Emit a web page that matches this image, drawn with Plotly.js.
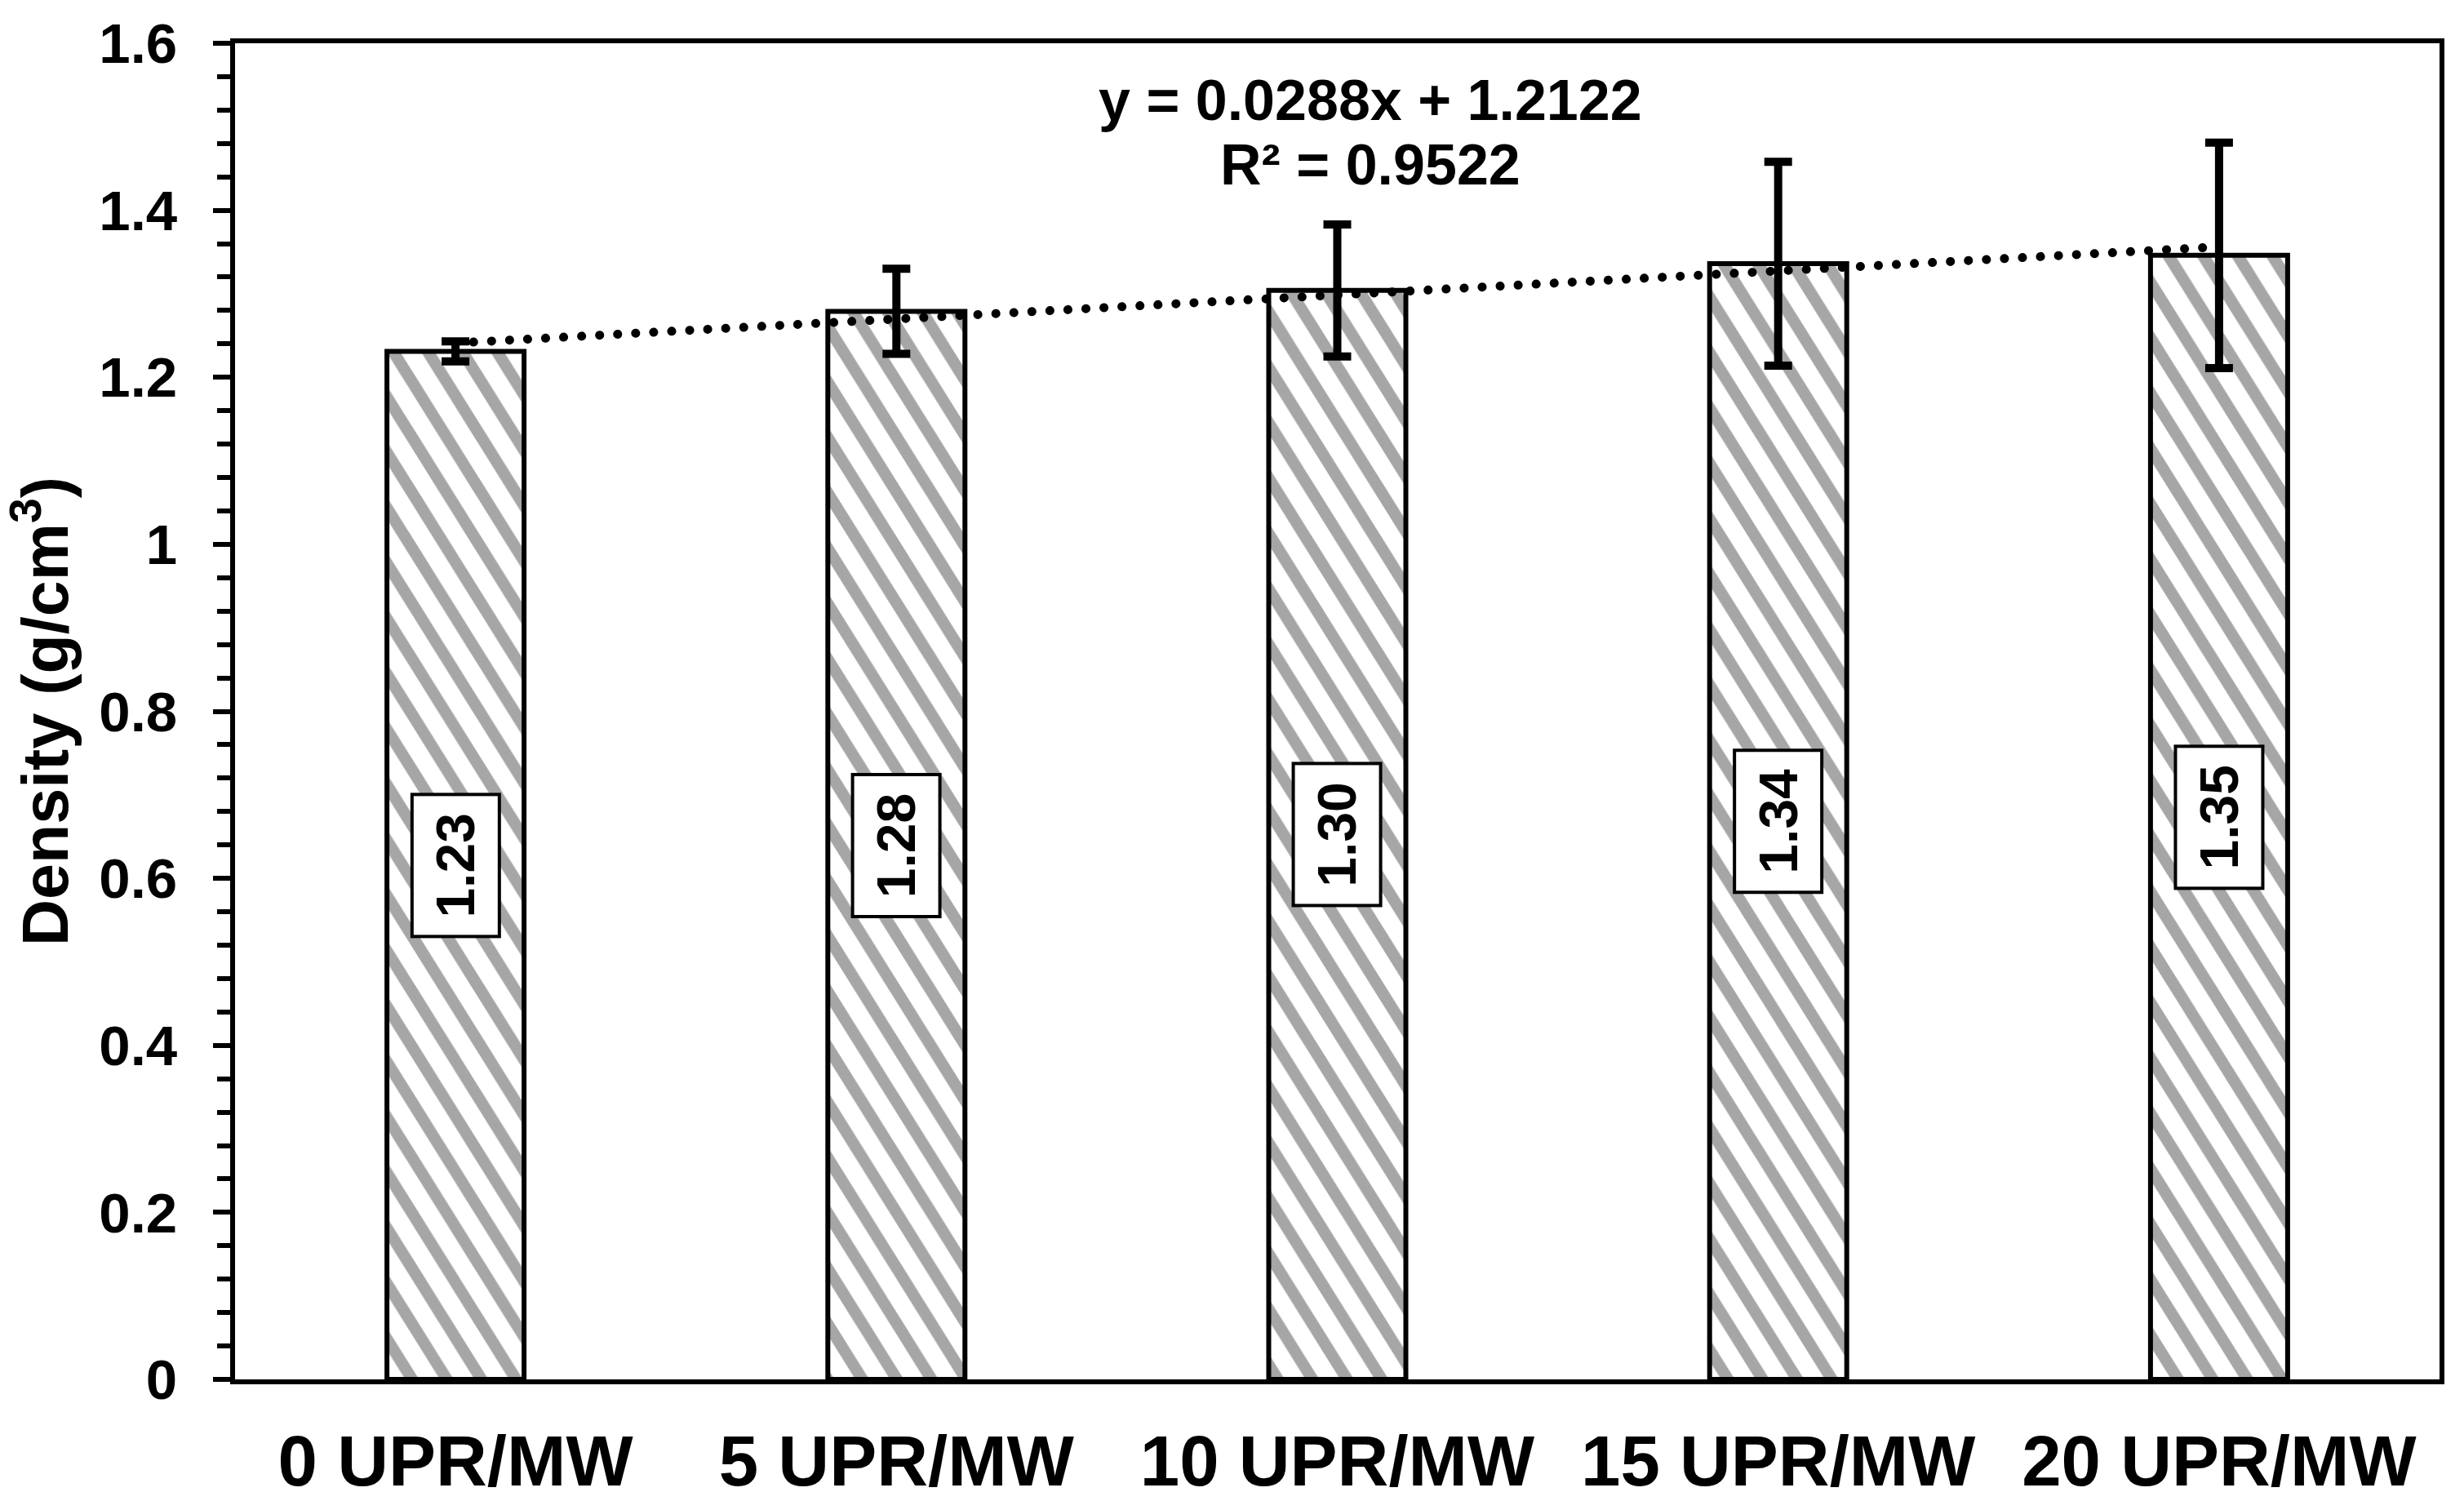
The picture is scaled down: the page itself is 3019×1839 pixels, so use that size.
<!DOCTYPE html>
<html><head><meta charset="utf-8">
<script src="https://cdn.plot.ly/plotly-3.0.1.min.js"></script>
<style>html,body{margin:0;padding:0;background:#fff}</style>
</head><body><div id="chart" style="width:3019px;height:1839px"></div>
<script>
const categories = ['0 UPR/MW', '5 UPR/MW', '10 UPR/MW', '15 UPR/MW', '20 UPR/MW'];
const densityValues = [1.231, 1.279, 1.304, 1.336, 1.346];
const densityErrors = [0.012, 0.051, 0.079, 0.122, 0.135];
const trendSlope = 0.0288;
const trendIntercept = 1.2122;
const trendR2 = 0.9522;
const yTickValues = [0, 0.2, 0.4, 0.6, 0.8, 1, 1.2, 1.4, 1.6];
const yTickLabels = ['0', '0.2', '0.4', '0.6', '0.8', '1', '1.2', '1.4', '1.6'];

const mainFont = 'Liberation Sans, Arial, sans-serif';

const barTrace = {
  type: 'bar',
  x: categories,
  y: densityValues,
  width: 0.311,
  marker: {
    color: '#ffffff',
    line: {color: '#000000', width: 6},
    pattern: {shape: '\\', fgcolor: '#A6A6A6', bgcolor: '#ffffff', size: 30, solidity: 0.4, fillmode: 'replace'}
  },
  error_y: {type: 'data', array: densityErrors, visible: true, color: '#000000', thickness: 10, width: 17},
  hoverinfo: 'skip',
  showlegend: false
};

const trendTrace = {
  type: 'scatter',
  mode: 'lines',
  x: [categories[0], categories[categories.length - 1]],
  y: [trendSlope * 1 + trendIntercept, trendSlope * categories.length + trendIntercept],
  line: {color: '#000000', width: 11, dash: 'dot'},
  hoverinfo: 'skip',
  showlegend: false
};

const labelAnnotations = categories.map((c, i) => ({
  x: c, y: densityValues[i] / 2, xref: 'x', yref: 'y',
  text: densityValues[i].toFixed(2),
  showarrow: false, textangle: -90,
  font: {family: mainFont, size: 66, color: '#000000', weight: 'bold'},
  bgcolor: '#ffffff', bordercolor: '#000000', borderwidth: 4, borderpad: 0,
  width: 170, height: 103
}));

const eqFont = {family: mainFont, size: 70, color: '#000000', weight: 'bold'};
const eqAnnotations = [
  {x: 0.515, y: 0.9572, xref: 'paper', yref: 'paper', xanchor: 'center', yanchor: 'middle',
   text: 'y = ' + trendSlope.toFixed(4) + 'x + ' + trendIntercept.toFixed(4), showarrow: false, font: eqFont},
  {x: 0.515, y: 0.909, xref: 'paper', yref: 'paper', xanchor: 'center', yanchor: 'middle',
   text: 'R² = ' + trendR2.toFixed(4), showarrow: false, font: eqFont}
];

const layout = {
  width: 3019, height: 1839,
  margin: {l: 288, r: 30, t: 53, b: 149},
  paper_bgcolor: '#ffffff', plot_bgcolor: '#ffffff',
  showlegend: false,
  font: {family: mainFont, color: '#000000'},
  xaxis: {
    type: 'category', range: [-0.5, 4.5],
    showline: true, linecolor: '#000000', linewidth: 6, mirror: true,
    ticks: '', showgrid: false, zeroline: false,
    tickfont: {family: mainFont, size: 87, color: '#000000', weight: 'bold'},
    ticklabelstandoff: 20
  },
  yaxis: {
    range: [0, 1.6], tickmode: 'array', tickvals: yTickValues, ticktext: yTickLabels,
    showline: true, linecolor: '#000000', linewidth: 6, mirror: true,
    ticks: 'outside', ticklen: 21, tickwidth: 6, tickcolor: '#000000',
    minor: {dtick: 0.04, ticks: 'outside', ticklen: 16, tickwidth: 6, tickcolor: '#000000', showgrid: false},
    showgrid: false, zeroline: false,
    tickfont: {family: mainFont, size: 69, color: '#000000', weight: 'bold'},
    ticklabelstandoff: 30,
    title: {text: 'Density (g/cm<sup>3</sup>)', font: {family: mainFont, size: 79, color: '#000000', weight: 'bold'}, standoff: 48}
  },
  annotations: labelAnnotations.concat(eqAnnotations)
};

Plotly.newPlot('chart', [barTrace, trendTrace], layout, {displayModeBar: false, staticPlot: true}).then(() => {
  document.querySelectorAll('pattern').forEach(p => {
    p.setAttribute('patternTransform', 'scale(1,1.6)');
  });
  document.querySelectorAll('.scatterlayer .js-line').forEach(p => {
    p.style.strokeLinecap = 'round';
    p.style.strokeDasharray = '0.1px,22px';
  });
});
</script></body></html>
